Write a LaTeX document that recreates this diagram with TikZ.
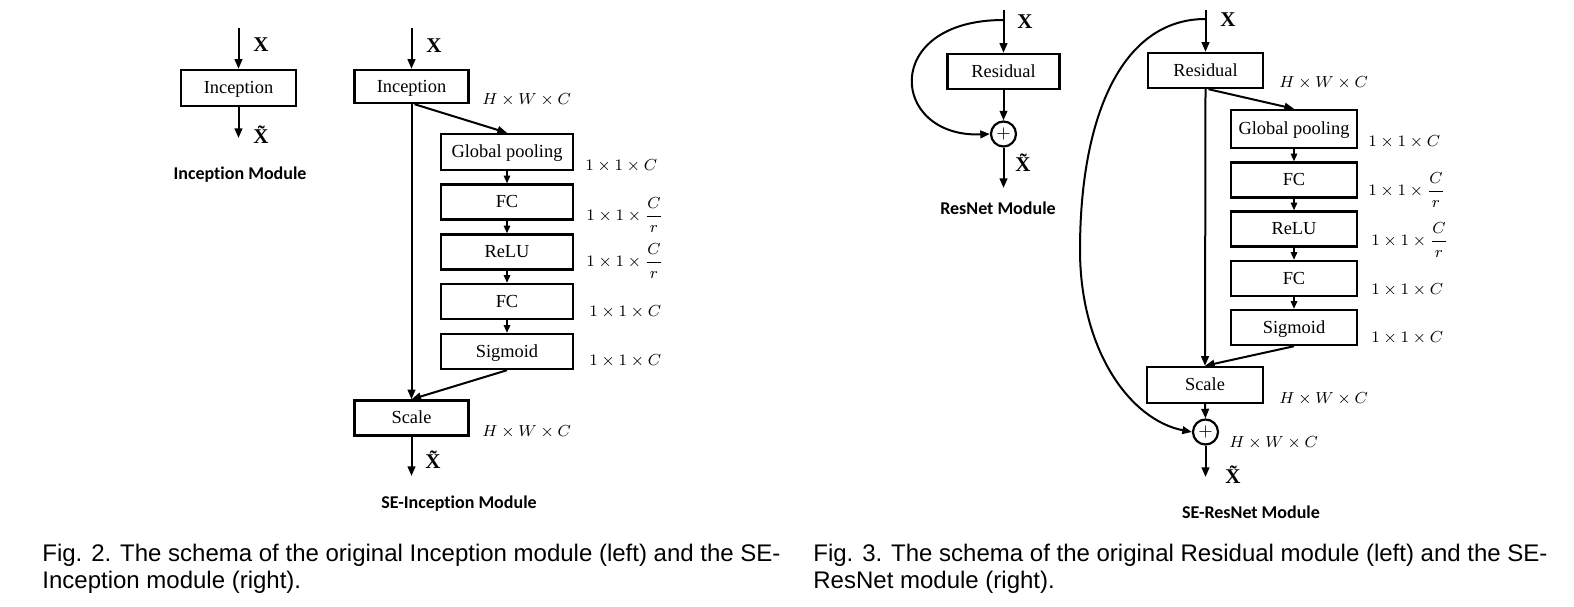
\documentclass[tikz,border=0pt]{standalone}
\usepackage{fontspec}
\setmainfont{Liberation Serif}
\newfontfamily\capfont{Liberation Sans}
\newfontfamily\modfont[Ligatures=NoCommon]{Carlito}
\usetikzlibrary{arrows.meta}
\newcommand{\mydfrac}[2]{{\displaystyle\frac{#1}{#2}}}
\tikzset{
  box/.style={draw, line width=1.2pt, minimum height=17.5pt, inner sep=0pt, text height=7.2pt, text depth=1.4pt, font=\fontsize{9.2}{10}\selectfont},
  arr/.style={line width=1pt, -{Triangle[length=4.8pt,width=3.8pt]}},
  sarr/.style={line width=0.8pt, -{Triangle[length=3.8pt,width=3.2pt]}},
  lbl/.style={font=\fontsize{10.5}{12}\selectfont\bfseries, inner sep=0pt},
  dim/.style={font=\fontsize{8.2}{9}\selectfont, inner sep=0pt, anchor=west},
  mod/.style={font=\modfont\bfseries\fontsize{9}{10}\selectfont, inner sep=0pt},
  captext/.style={font=\capfont\fontsize{12}{13.5}\selectfont, anchor=base west, inner sep=0pt},
  plus/.style={draw, circle, line width=1.1pt, minimum size=12.5pt, inner sep=0pt, font=\fontsize{9}{9}\selectfont},
}
\begin{document}
\begin{tikzpicture}[x=0.5pt,y=-0.5pt]
\useasboundingbox (0,0) rectangle (1574,606);

% ---------- Inception module (left) ----------
\node[box, minimum width=57.5pt, minimum height=18pt] (inc1) at (238.5,88) {Inception};
\coordinate (inc1in) at (238.5,28);
\coordinate (inc1out) at (238.5,138);
\draw[arr] (inc1in) -- (inc1.north);
\draw[arr] (inc1.south) -- (inc1out);
\node[lbl] (x1) at (261,45) {X};
\node[lbl] (xt1) at (261,135) {\~{X}};
\node[mod] (m1) at (240,175) {Inception Module};

% ---------- SE-Inception module ----------
\node[box, minimum width=57pt, minimum height=16.5pt] (inc2) at (411.5,86.5) {Inception};
\node[box, minimum width=66pt, minimum height=18pt] (gp) at (507,152) {Global pooling};
\node[box, minimum width=66pt] (fc1) at (507,202) {FC};
\node[box, minimum width=66pt] (relu) at (507,252) {ReLU};
\node[box, minimum width=66pt] (fc2) at (507,301.5) {FC};
\node[box, minimum width=66pt] (sig) at (507,351.5) {Sigmoid};
\node[box, minimum width=57pt, minimum height=17.5pt] (scale) at (411.5,418) {Scale};
\coordinate (inc2in) at (411.5,28);
\coordinate (inc2out) at (411.5,476);
\draw[arr] (inc2in) -- (inc2.north);
\draw[arr] ([xshift=1.5pt]inc2.south) -- (gp.north);
\draw[arr] (inc2.south) -- (scale.north);
\draw[sarr] (gp) -- (fc1);
\draw[sarr] (fc1) -- (relu);
\draw[sarr] (relu) -- (fc2);
\draw[sarr] (fc2) -- (sig);
\draw[arr] (sig.south) -- (scale.north);
\draw[arr] (scale.south) -- (inc2out);
\node[lbl] (x2) at (434,46) {X};
\node[lbl] (xt2) at (433,460) {\~{X}};
\node[dim] (d1) at (482,100) {$H\times W\times C$};
\node[dim] (d2) at (585,166) {$1\times1\times C$};
\node[dim] (d3) at (586,215) {$1\times1\times\mydfrac{C}{r}$};
\node[dim] (d4) at (586,261) {$1\times1\times\mydfrac{C}{r}$};
\node[dim] (d5) at (589,312) {$1\times1\times C$};
\node[dim] (d6) at (589,361) {$1\times1\times C$};
\node[dim] (d7) at (482,432) {$H\times W\times C$};
\node[mod] (m2) at (459,504) {SE-Inception Module};

% ---------- ResNet module ----------
\node[box, minimum width=56pt] (res1) at (1003.5,71.5) {Residual};
\node[plus] (c1) at (1003.5,134) {$+$};
\coordinate (r1in) at (1003.5,10);
\coordinate (r1j) at (1003.5,20);
\coordinate (r1out) at (1003.5,188);
\draw[arr] (r1in) -- (res1.north);
\draw[arr] (res1.south) -- (c1.north);
\draw[arr] (c1.south) -- (r1out);
\draw[arr] (r1j) .. controls (880,20) and (890,138) .. (c1.west);
\node[lbl] (x3) at (1025,22) {X};
\node[lbl] (xt3) at (1023,163) {\~{X}};
\node[mod] (m3) at (998,208) {ResNet Module};

% ---------- SE-ResNet module ----------
\node[box, minimum width=57.5pt] (res2) at (1205.5,70.5) {Residual};
\node[box, minimum width=63pt, minimum height=19pt] (gp2) at (1294,129) {Global pooling};
\node[box, minimum width=63pt] (fc3) at (1294,180) {FC};
\node[box, minimum width=63pt] (relu2) at (1294,229) {ReLU};
\node[box, minimum width=63pt] (fc4) at (1294,278.5) {FC};
\node[box, minimum width=63pt] (sig2) at (1294,327.5) {Sigmoid};
\node[box, minimum width=58pt, minimum height=18pt] (scale2) at (1205,385) {Scale};
\node[plus] (c2) at (1205.5,432) {$+$};
\coordinate (r2in) at (1205.5,10);
\coordinate (r2j) at (1205.5,19);
\coordinate (r2out) at (1205.5,477);
\draw[arr] (r2in) -- (res2.north);
\draw[arr] ([xshift=1.5pt]res2.south) -- (gp2.north);
\draw[arr] (res2.south) -- (scale2.north);
\draw[sarr] (gp2) -- (fc3);
\draw[sarr] (fc3) -- (relu2);
\draw[sarr] (relu2) -- (fc4);
\draw[sarr] (fc4) -- (sig2);
\draw[arr] (sig2.south) -- (scale2.north);
\draw[arr] (scale2.south) -- (c2.north);
\draw[arr] (c2.south) -- (r2out);
\draw[arr] (r2j) .. controls (1120,19) and (1080,120) .. (1080,250)
               .. controls (1080,350) and (1130,420) .. (c2.west);
\node[lbl] (x4) at (1228,20) {X};
\node[lbl] (xt4) at (1233,475) {\~{X}};
\node[dim] (e1) at (1279,83) {$H\times W\times C$};
\node[dim] (e2) at (1368,142) {$1\times1\times C$};
\node[dim] (e3) at (1368,190) {$1\times1\times\mydfrac{C}{r}$};
\node[dim] (e4) at (1371,240) {$1\times1\times\mydfrac{C}{r}$};
\node[dim] (e5) at (1371,290) {$1\times1\times C$};
\node[dim] (e6) at (1371,338) {$1\times1\times C$};
\node[dim] (e7) at (1279,399) {$H\times W\times C$};
\node[dim] (e8) at (1229,443) {$H\times W\times C$};
\node[mod] (m4) at (1251,512) {SE-ResNet Module};

% ---------- captions ----------
\node[captext] (cap1a) at (42,561) {Fig. 2. The schema of the original Inception module (left) and the SE-};
\node[captext] (cap1b) at (42,588) {Inception module (right).};
\node[captext] (cap2a) at (813,561) {Fig. 3. The schema of the original Residual module (left) and the SE-};
\node[captext] (cap2b) at (813,588) {ResNet module (right).};
\end{tikzpicture}
\end{document}
